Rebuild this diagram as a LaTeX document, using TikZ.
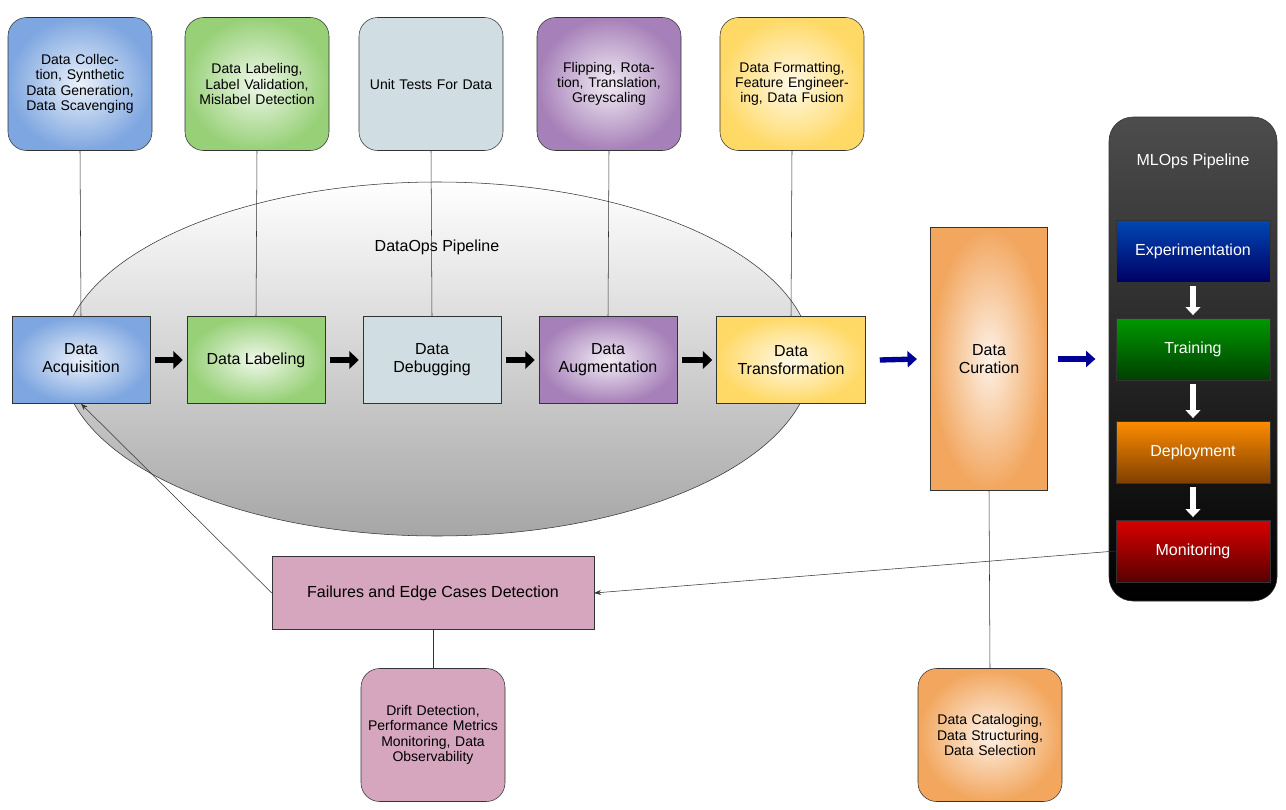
\documentclass[tikz,border=0pt]{standalone}
\usepackage{fontspec}
\setmainfont{Liberation Sans}
\usetikzlibrary{arrows.meta,shapes.geometric,positioning}
\definecolor{cblue}{HTML}{7EA6E0}
\definecolor{cgreen}{HTML}{97D077}
\definecolor{cgrey}{HTML}{D0DEE3}
\definecolor{cpurple}{HTML}{A680B8}
\definecolor{cyellow}{HTML}{FFD966}
\definecolor{corange}{HTML}{F2A65E}
\definecolor{cpink}{HTML}{D5A6BD}
\begin{document}
\begin{tikzpicture}[x=0.75pt,y=-0.75pt,
 box/.style={draw=black!80,minimum width=#1*0.75pt,align=center,inner sep=1pt},
 top/.style={box=144,minimum height=133*0.75pt,rounded corners=14pt,font=\fontsize{10.5}{11.5}\selectfont,text width=100pt},
 row/.style={box=138,minimum height=87*0.75pt,font=\fontsize{12}{13.5}\selectfont},
 ml/.style={box=154,minimum height=62*0.75pt,font=\fontsize{12}{13.5}\selectfont,text=white},
 rad/.style={shading=radial,inner color=white!85!#1,outer color=#1},
 blk/.style={line width=5pt,-{Triangle[length=7pt,width=13pt]},black},
 blu/.style={line width=4pt,-{Triangle[length=7pt,width=12pt]},draw=blue!60!black},
 wht/.style={line width=4pt,-{Triangle[length=6pt,width=11pt]},white},
 thin/.style={draw=black!80,-{Stealth[length=5pt]}}]
\useasboundingbox (0,0) rectangle (1286,810);
\fill[white] (0,0) rectangle (1286,810);
% ellipse
\node[ellipse,draw=black!80,minimum width=750*0.75pt,minimum height=354*0.75pt,top color=white,bottom color=black!35] (ell) at (437,359) {};
\node[font=\fontsize{12}{13.5}\selectfont] (dlab) at (437,247) {DataOps Pipeline};
% top boxes
\node[top,rad=cblue] (t1) at (80,84) {Data Collection, Synthetic Data Generation, Data Scavenging};
\node[top,rad=cgreen] (t2) at (257,84) {Data Labeling, Label Validation, Mislabel Detection};
\node[top,fill=cgrey] (t3) at (431,84) {Unit Tests For Data};
\node[top,rad=cpurple] (t4) at (609,84) {Flipping, Rotation, Translation, Greyscaling};
\node[top,rad=cyellow] (t5) at (792,84) {Data Formatting, Feature Engineering, Data Fusion};
% row boxes
\node[row,rad=cblue] (r1) at (81,360) {Data\\Acquisition};
\node[row,rad=cgreen] (r2) at (256,360) {Data Labeling};
\node[row,fill=cgrey] (r3) at (432,360) {Data\\Debugging};
\node[row,rad=cpurple] (r4) at (608,360) {Data\\Augmentation};
\node[row,rad=cyellow,minimum width=149*0.75pt] (r5) at (791,360) {Data\\Transformation};
\foreach \i in {1,...,5}{\draw[black!80] (t\i.south) -- (r\i.north);}
\draw[blk] (r1.east)++(5,0) -- ([xshift=-3pt]r2.west);
\draw[blk] (r2.east)++(5,0) -- ([xshift=-3pt]r3.west);
\draw[blk] (r3.east)++(5,0) -- ([xshift=-3pt]r4.west);
\draw[blk] (r4.east)++(5,0) -- ([xshift=-3pt]r5.west);
% curation
\node[box=117,minimum height=263*0.75pt,rad=corange,font=\fontsize{12}{13.5}\selectfont] (cur) at (989,359) {Data\\Curation};
\draw[blu] (r5.east)++(14,0) -- ([xshift=-10pt]cur.west);
% MLOps
\node[draw=black!80,rounded corners=18pt,minimum width=168*0.75pt,minimum height=484*0.75pt,top color=black!70,bottom color=black] (mlb) at (1193,359) {};
\node[text=white,font=\fontsize{12}{13.5}\selectfont] (mlt) at (1193,161) {MLOps Pipeline};
\node[ml,top color=blue!60!cyan!70!black,bottom color=blue!40!black] (m1) at (1193,251) {Experimentation};
\node[ml,top color=green!60!black,bottom color=green!25!black] (m2) at (1193,349) {Training};
\node[ml,top color=orange!90!yellow,bottom color=orange!50!black] (m3) at (1193,452) {Deployment};
\node[ml,top color=red!85!black,bottom color=red!35!black] (m4) at (1193,551) {Monitoring};
\draw[wht] ([yshift=-3pt]m1.south) -- ([yshift=2pt]m2.north);
\draw[wht] ([yshift=-3pt]m2.south) -- ([yshift=2pt]m3.north);
\draw[wht] ([yshift=-3pt]m3.south) -- ([yshift=2pt]m4.north);
\draw[blu] (cur.east)++(10,0) -- ([xshift=-10pt]mlb.west);
% failures
\node[box=322,minimum height=73*0.75pt,fill=cpink,font=\fontsize{12}{13.5}\selectfont] (fail) at (433,593) {Failures and Edge Cases Detection};
\node[top,fill=cpink] (drift) at (433,735) {Drift Detection, Performance Metrics Monitoring, Data Observability};
\node[top,rad=corange] (cat) at (990,735) {Data Cataloging, Data Structuring, Data Selection};
\draw[black!80] (fail.south) -- (drift.north);
\draw[black!80] (cur.south) -- (cat.north);
\draw[thin] (m4.west) -- (fail.east);
\draw[thin] (fail.west) -- (r1.south);
\end{tikzpicture}
\end{document}
